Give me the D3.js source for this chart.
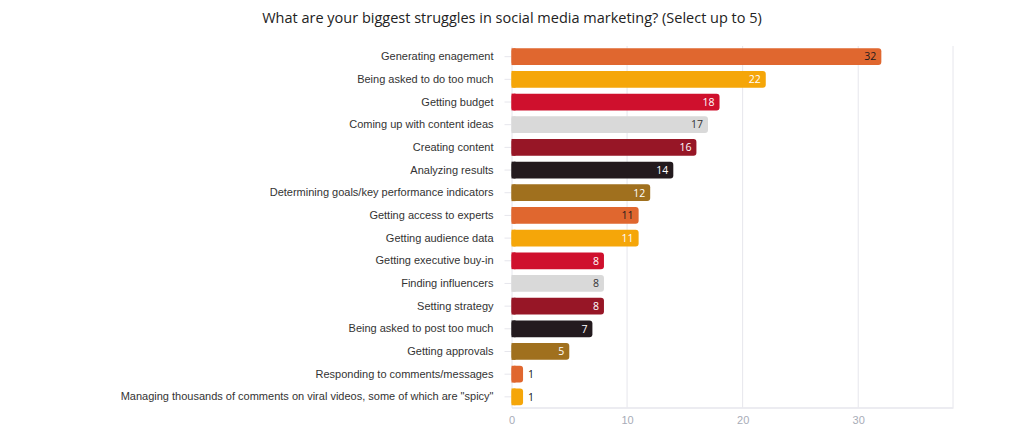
<!DOCTYPE html>
<meta charset="utf-8">
<head>
  <script src="https://cdnjs.cloudflare.com/ajax/libs/d3/7.8.5/d3.min.js"></script>
  <style>
    body { margin: 0; background: #fff; }
    svg { display: block; font-family: "Open Sans", "Liberation Sans", sans-serif; }
  </style>
</head>
<body>
<div id="my_dataviz"></div>
<script>

// answers, top to bottom
var categories = [
  "Generating enagement",
  "Being asked to do too much",
  "Getting budget",
  "Coming up with content ideas",
  "Creating content",
  "Analyzing results",
  "Determining goals/key performance indicators",
  "Getting access to experts",
  "Getting audience data",
  "Getting executive buy-in",
  "Finding influencers",
  "Setting strategy",
  "Being asked to post too much",
  "Getting approvals",
  "Responding to comments/messages",
  "Managing thousands of comments on viral videos, some of which are \"spicy\""
];
var values = [32, 22, 18, 17, 16, 14, 12, 11, 11, 8, 8, 8, 7, 5, 1, 1];
var xTicks = [0, 10, 20, 30];

// palette repeats every 7 bars
var palette = ["#e0672f", "#f5a609", "#cf102d", "#d9d9d9", "#971626", "#231a1e", "#a0701e"];
var labelInk = ["#231a1e", "#ffffff", "#ffffff", "#333333", "#ffffff", "#ffffff", "#ffffff"];

var W = 1024, H = 433;
var margin = { top: 46, right: 71, bottom: 25.5, left: 511.5 },
  width = W - margin.left - margin.right,
  height = H - margin.top - margin.bottom;

var root = d3.select("#my_dataviz")
  .append("svg")
  .attr("width", W)
  .attr("height", H);

// title
root.append("text")
  .attr("x", 512)
  .attr("y", 23)
  .attr("text-anchor", "middle")
  .style("font-size", "14.5px")
  .style("fill", "#222")
  .text("What are your biggest struggles in social media marketing? (Select up to 5)");

var svg = root.append("g")
  .attr("transform", "translate(" + margin.left + "," + margin.top + ")");

var x = d3.scaleLinear()
  .domain([0, 38.2])
  .range([0, width]);

var y = d3.scaleBand()
  .domain(categories)
  .range([0, height])
  .paddingInner(0.26)
  .paddingOuter(0.1);

// vertical grid
svg.selectAll("grid")
  .data(xTicks.slice(1).concat([38.2]))
  .enter()
  .append("line")
  .attr("x1", function (d) { return x(d); })
  .attr("x2", function (d) { return x(d); })
  .attr("y1", 0)
  .attr("y2", height)
  .attr("stroke", "#e6e6ec")
  .attr("stroke-width", 1);

// X axis
var xAxis = svg.append("g")
  .attr("transform", "translate(0," + height + ")")
  .call(d3.axisBottom(x).tickValues(xTicks).tickSize(0).tickPadding(9));
xAxis.select(".domain").attr("stroke", "#e6e6ec").attr("stroke-width", 1.5);
xAxis.selectAll("text").style("font-size", "11px").style("fill", "#a8acb8");

// Y axis
var yAxis = svg.append("g")
  .call(d3.axisLeft(y).tickSize(7).tickPadding(11).tickSizeOuter(0));
yAxis.select(".domain").attr("stroke", "#e6e6ec");
yAxis.selectAll(".tick line").attr("stroke", "#e6e6ec");
yAxis.selectAll("text").style("font-size", "11px").style("fill", "#333");

// Bars
svg.selectAll("mybar")
  .data(values)
  .enter()
  .append("rect")
  .attr("x", x(0))
  .attr("y", function (d, i) { return y(categories[i]); })
  .attr("width", function (d) { return x(d) - x(0); })
  .attr("height", y.bandwidth())
  .attr("rx", 3)
  .attr("fill", function (d, i) { return palette[i % 7]; });

// square off the left end of each bar
svg.selectAll("mybarleft")
  .data(values)
  .enter()
  .append("rect")
  .attr("x", x(0))
  .attr("y", function (d, i) { return y(categories[i]); })
  .attr("width", function (d) { return Math.min(4, (x(d) - x(0)) / 2); })
  .attr("height", y.bandwidth())
  .attr("fill", function (d, i) { return palette[i % 7]; });

// value labels
svg.selectAll("mylabel")
  .data(values)
  .enter()
  .append("text")
  .attr("x", function (d) { return d < 3 ? x(d) + 5 : x(d) - 5; })
  .attr("y", function (d, i) { return y(categories[i]) + y.bandwidth() / 2; })
  .attr("dy", "0.36em")
  .attr("text-anchor", function (d) { return d < 3 ? "start" : "end"; })
  .style("font-size", "10.5px")
  .style("font-weight", "500")
  .style("fill", function (d, i) { return d < 3 ? "#111" : labelInk[i % 7]; })
  .text(function (d) { return d; });

</script>
</body>
